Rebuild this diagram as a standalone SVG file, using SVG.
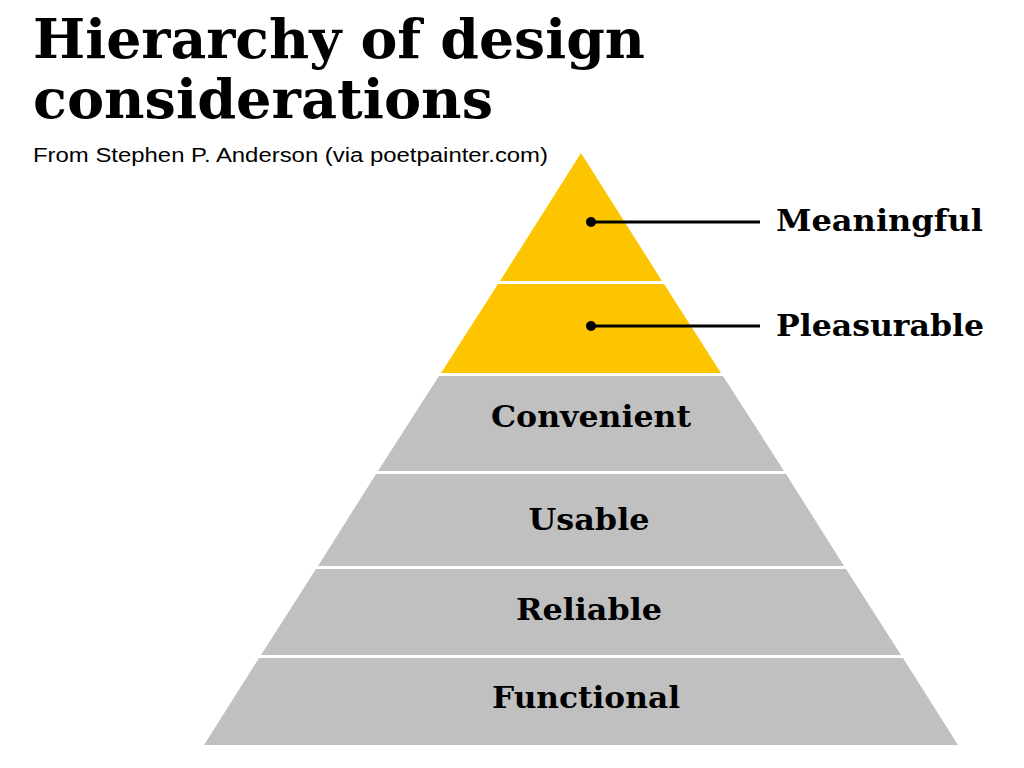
<svg xmlns="http://www.w3.org/2000/svg" width="1024" height="768" viewBox="0 0 1024 768">
<style>
.t{font-family:"DejaVu Serif",serif;font-weight:bold;fill:#000}
.lbl{font-family:"DejaVu Serif",serif;font-weight:bold;font-size:30px;fill:#000}
.y{fill:#fcc500}.g{fill:#c0c0c0}
.ln{stroke:#000;stroke-width:3}
</style>
<rect width="1024" height="768" fill="#fff"/>
<text class="t" x="33" y="58" font-size="54" textLength="612" lengthAdjust="spacingAndGlyphs">Hierarchy of design</text>
<text class="t" x="33" y="118" font-size="54" textLength="460" lengthAdjust="spacingAndGlyphs">considerations</text>
<text x="33" y="162" font-family="Liberation Sans,sans-serif" font-size="20" fill="#000" textLength="515" lengthAdjust="spacingAndGlyphs">From Stephen P. Anderson (via poetpainter.com)</text>
<g id="meaningful"><polygon class="y" points="581,153 662,281 500,281"/><text class="lbl" x="776" y="231" textLength="207" lengthAdjust="spacingAndGlyphs">Meaningful</text></g>
<g id="pleasurable"><polygon class="y" points="498,284 664,284 721,373 441,373"/><text class="lbl" x="776" y="336" textLength="208" lengthAdjust="spacingAndGlyphs">Pleasurable</text></g>
<g id="convenient"><polygon class="g" points="439,376 723,376 784,471 378,471"/><text class="lbl" x="591" y="427" text-anchor="middle" textLength="200" lengthAdjust="spacingAndGlyphs">Convenient</text></g>
<g id="usable"><polygon class="g" points="376,474 786,474 844,566 318,566"/><text class="lbl" x="589" y="530" text-anchor="middle" textLength="121" lengthAdjust="spacingAndGlyphs">Usable</text></g>
<g id="reliable"><polygon class="g" points="316,569 846,569 901,655 261,655"/><text class="lbl" x="589" y="620" text-anchor="middle" textLength="146" lengthAdjust="spacingAndGlyphs">Reliable</text></g>
<g id="functional"><polygon class="g" points="259,658 903,658 958,745 204,745"/><text class="lbl" x="586" y="708" text-anchor="middle" textLength="188" lengthAdjust="spacingAndGlyphs">Functional</text></g>
<g id="connectors">
<circle cx="591" cy="222" r="5"/><line class="ln" x1="591" y1="222" x2="760" y2="222"/>
<circle cx="591" cy="326" r="5"/><line class="ln" x1="591" y1="326" x2="760" y2="326"/>
</g>
</svg>
